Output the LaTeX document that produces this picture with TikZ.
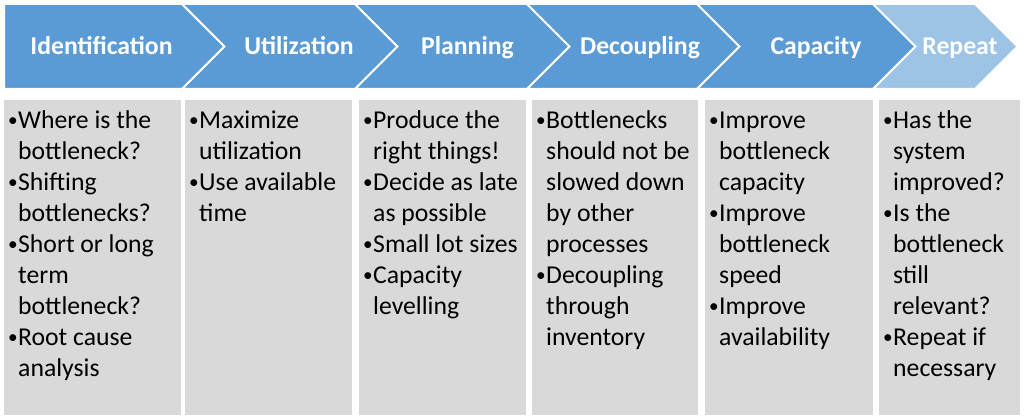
\documentclass[tikz,border=0pt]{standalone}
\usepackage{fontspec}
\setmainfont{Carlito}
\definecolor{chev}{HTML}{5B9BD5}
\definecolor{chevlight}{HTML}{9DC3E6}
\definecolor{boxgray}{HTML}{D9D9D9}
\newcommand{\bl}{\makebox[10pt][l]{\raisebox{1.8pt}{\scalebox{0.75}{•}}}}
\newcommand{\ind}{\hspace*{10pt}}
\tikzset{
  chevron/.style={fill=chev, draw=white, line width=2pt, line join=miter},
  chevronlight/.style={chevron, fill=chevlight},
  head/.style={text=white, font=\bfseries\fontsize{25.7}{31}\selectfont, anchor=base, inner sep=0pt},
  itembox/.style={fill=boxgray},
  items/.style={anchor=base west, align=left, inner sep=0pt, font=\fontsize{25.7}{31}\selectfont, text=black}
}
\begin{document}
\begin{tikzpicture}[x=1pt,y=-1pt]
\useasboundingbox (0,0) rectangle (1024,417);
% chevrons
\path[chevron] (4,4) -- (182,4) -- (224.5,46.5) -- (182,89) -- (4,89) -- cycle;
\path[chevron] (182,4) -- (355,4) -- (397.5,46.5) -- (355,89) -- (182,89) -- (224.5,46.5) -- cycle;
\path[chevron] (355,4) -- (527,4) -- (569.5,46.5) -- (527,89) -- (355,89) -- (397.5,46.5) -- cycle;
\path[chevron] (527,4) -- (697,4) -- (739.5,46.5) -- (697,89) -- (527,89) -- (569.5,46.5) -- cycle;
\path[chevron] (697,4) -- (873,4) -- (915.5,46.5) -- (873,89) -- (697,89) -- (739.5,46.5) -- cycle;
\path[chevronlight] (873,4) -- (975,4) -- (1017.5,46.5) -- (975,89) -- (873,89) -- (915.5,46.5) -- cycle;
% headings
\node[head] (h1) at (101.5,55) {Identification};
\node[head] (h2) at (299,55) {Utilization};
\node[head] (h3) at (467.5,55) {Planning};
\node[head] (h4) at (640,55) {Decoupling};
\node[head] (h5) at (816,55) {Capacity};
\node[head] (h6) at (960,55) {Repeat};
% boxes
\fill[itembox] (4,100) rectangle (181,415);
\fill[itembox] (185,100) rectangle (352,415);
\fill[itembox] (359,100) rectangle (526,415);
\fill[itembox] (532,100) rectangle (698,415);
\fill[itembox] (705,100) rectangle (873,415);
\fill[itembox] (879,100) rectangle (1020,415);
% texts (anchor = baseline of the last line)
\node[items] (t1) at (8,376) {\bl Where is the\\\ind bottleneck?\\\bl Shifting\\\ind bottlenecks?\\\bl Short or long\\\ind term\\\ind bottleneck?\\\bl Root cause\\\ind analysis};
\node[items] (t2) at (189,221) {\bl Maximize\\\ind utilization\\\bl Use available\\\ind time};
\node[items] (t3) at (363,314) {\bl Produce the\\\ind right things!\\\bl Decide as late\\\ind as possible\\\bl Small lot sizes\\\bl Capacity\\\ind levelling};
\node[items] (t4) at (536,345) {\bl Bottlenecks\\\ind should not be\\\ind slowed down\\\ind by other\\\ind processes\\\bl Decoupling\\\ind through\\\ind inventory};
\node[items] (t5) at (709,345) {\bl Improve\\\ind bottleneck\\\ind capacity\\\bl Improve\\\ind bottleneck\\\ind speed\\\bl Improve\\\ind availability};
\node[items] (t6) at (883,376) {\bl Has the\\\ind system\\\ind improved?\\\bl Is the\\\ind bottleneck\\\ind still\\\ind relevant?\\\bl Repeat if\\\ind necessary};
\end{tikzpicture}
\end{document}
